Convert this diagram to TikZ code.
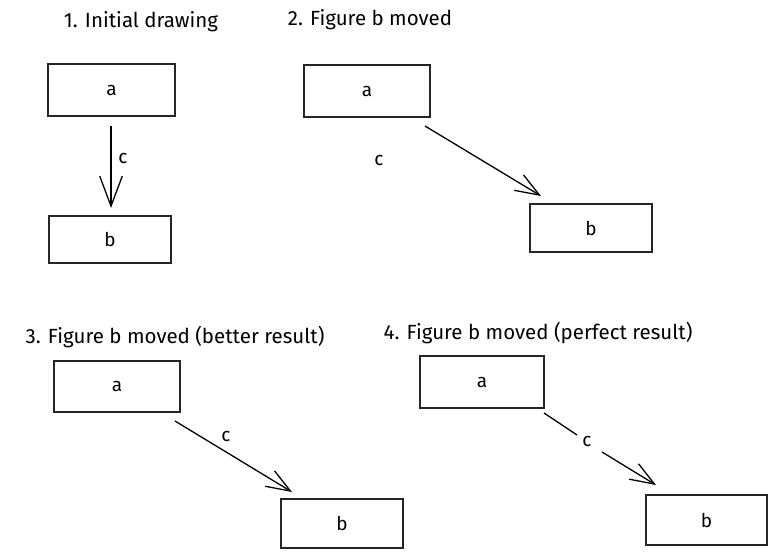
\documentclass[tikz,border=0pt]{standalone}
\usepackage{fontspec}
\setmainfont{Fira Sans}
\usetikzlibrary{arrows.meta}
\begin{document}
\begin{tikzpicture}[x=1pt,y=-1pt,
  box/.style={draw=black!85,line width=1.6pt,minimum width=#1,inner sep=0pt,font=\fontsize{19}{22}\selectfont},
  title/.style={font=\fontsize{20.5}{24}\selectfont,inner sep=0pt},
  lbl/.style={font=\fontsize{19}{22}\selectfont,inner sep=0pt},
  conn/.style={line width=1.3pt,-{Straight Barb[length=#1,width=#1*0.75,line width=1.3pt]}},
]
\useasboundingbox (0,0) rectangle (776,556);
% Panel 1
\node[title] (t1) at (141,22) {1. Initial drawing};
\node[box=127pt,minimum height=52pt] (a1) at (111.5,90) {a};
\node[box=122pt,minimum height=47pt] (b1) at (110,239.5) {b};
\coordinate (s1) at (111,126);
\coordinate (e1) at (111,208);
\draw[conn=30pt] (s1) -- (e1);
\node[lbl] (c1) at (123,158) {c};
% Panel 2
\node[title] (t2) at (370,20) {2. Figure b moved};
\node[box=126pt,minimum height=52pt] (a2) at (367,91) {a};
\node[box=122pt,minimum height=48pt] (b2) at (591,228) {b};
\coordinate (s2) at (425,126);
\coordinate (e2) at (541,196);
\draw[conn=24pt] (s2) -- (e2);
\node[lbl] (c2) at (379,160) {c};
% Panel 3
\node[title] (t3) at (175,337) {3. Figure b moved (better result)};
\node[box=126pt,minimum height=51pt] (a3) at (117,386.5) {a};
\node[box=122pt,minimum height=49pt] (b3) at (342,523.5) {b};
\coordinate (s3) at (175,421);
\coordinate (e3) at (292,492);
\draw[conn=24pt] (s3) -- (e3);
\node[lbl] (c3) at (226,436) {c};
% Panel 4
\node[title] (t4) at (538,333) {4. Figure b moved (perfect result)};
\node[box=124pt,minimum height=52pt] (a4) at (482,382) {a};
\node[box=121pt,minimum height=50pt] (b4) at (706.5,520) {b};
\coordinate (s4) at (544,413);
\coordinate (g4a) at (577,435);
\coordinate (g4b) at (602,452);
\coordinate (e4) at (656,485);
\node[lbl] (c4) at (587,441) {c};
\draw[line width=1.3pt] (s4) -- (g4a);
\draw[conn=24pt] (g4b) -- (e4);
\end{tikzpicture}
\end{document}
